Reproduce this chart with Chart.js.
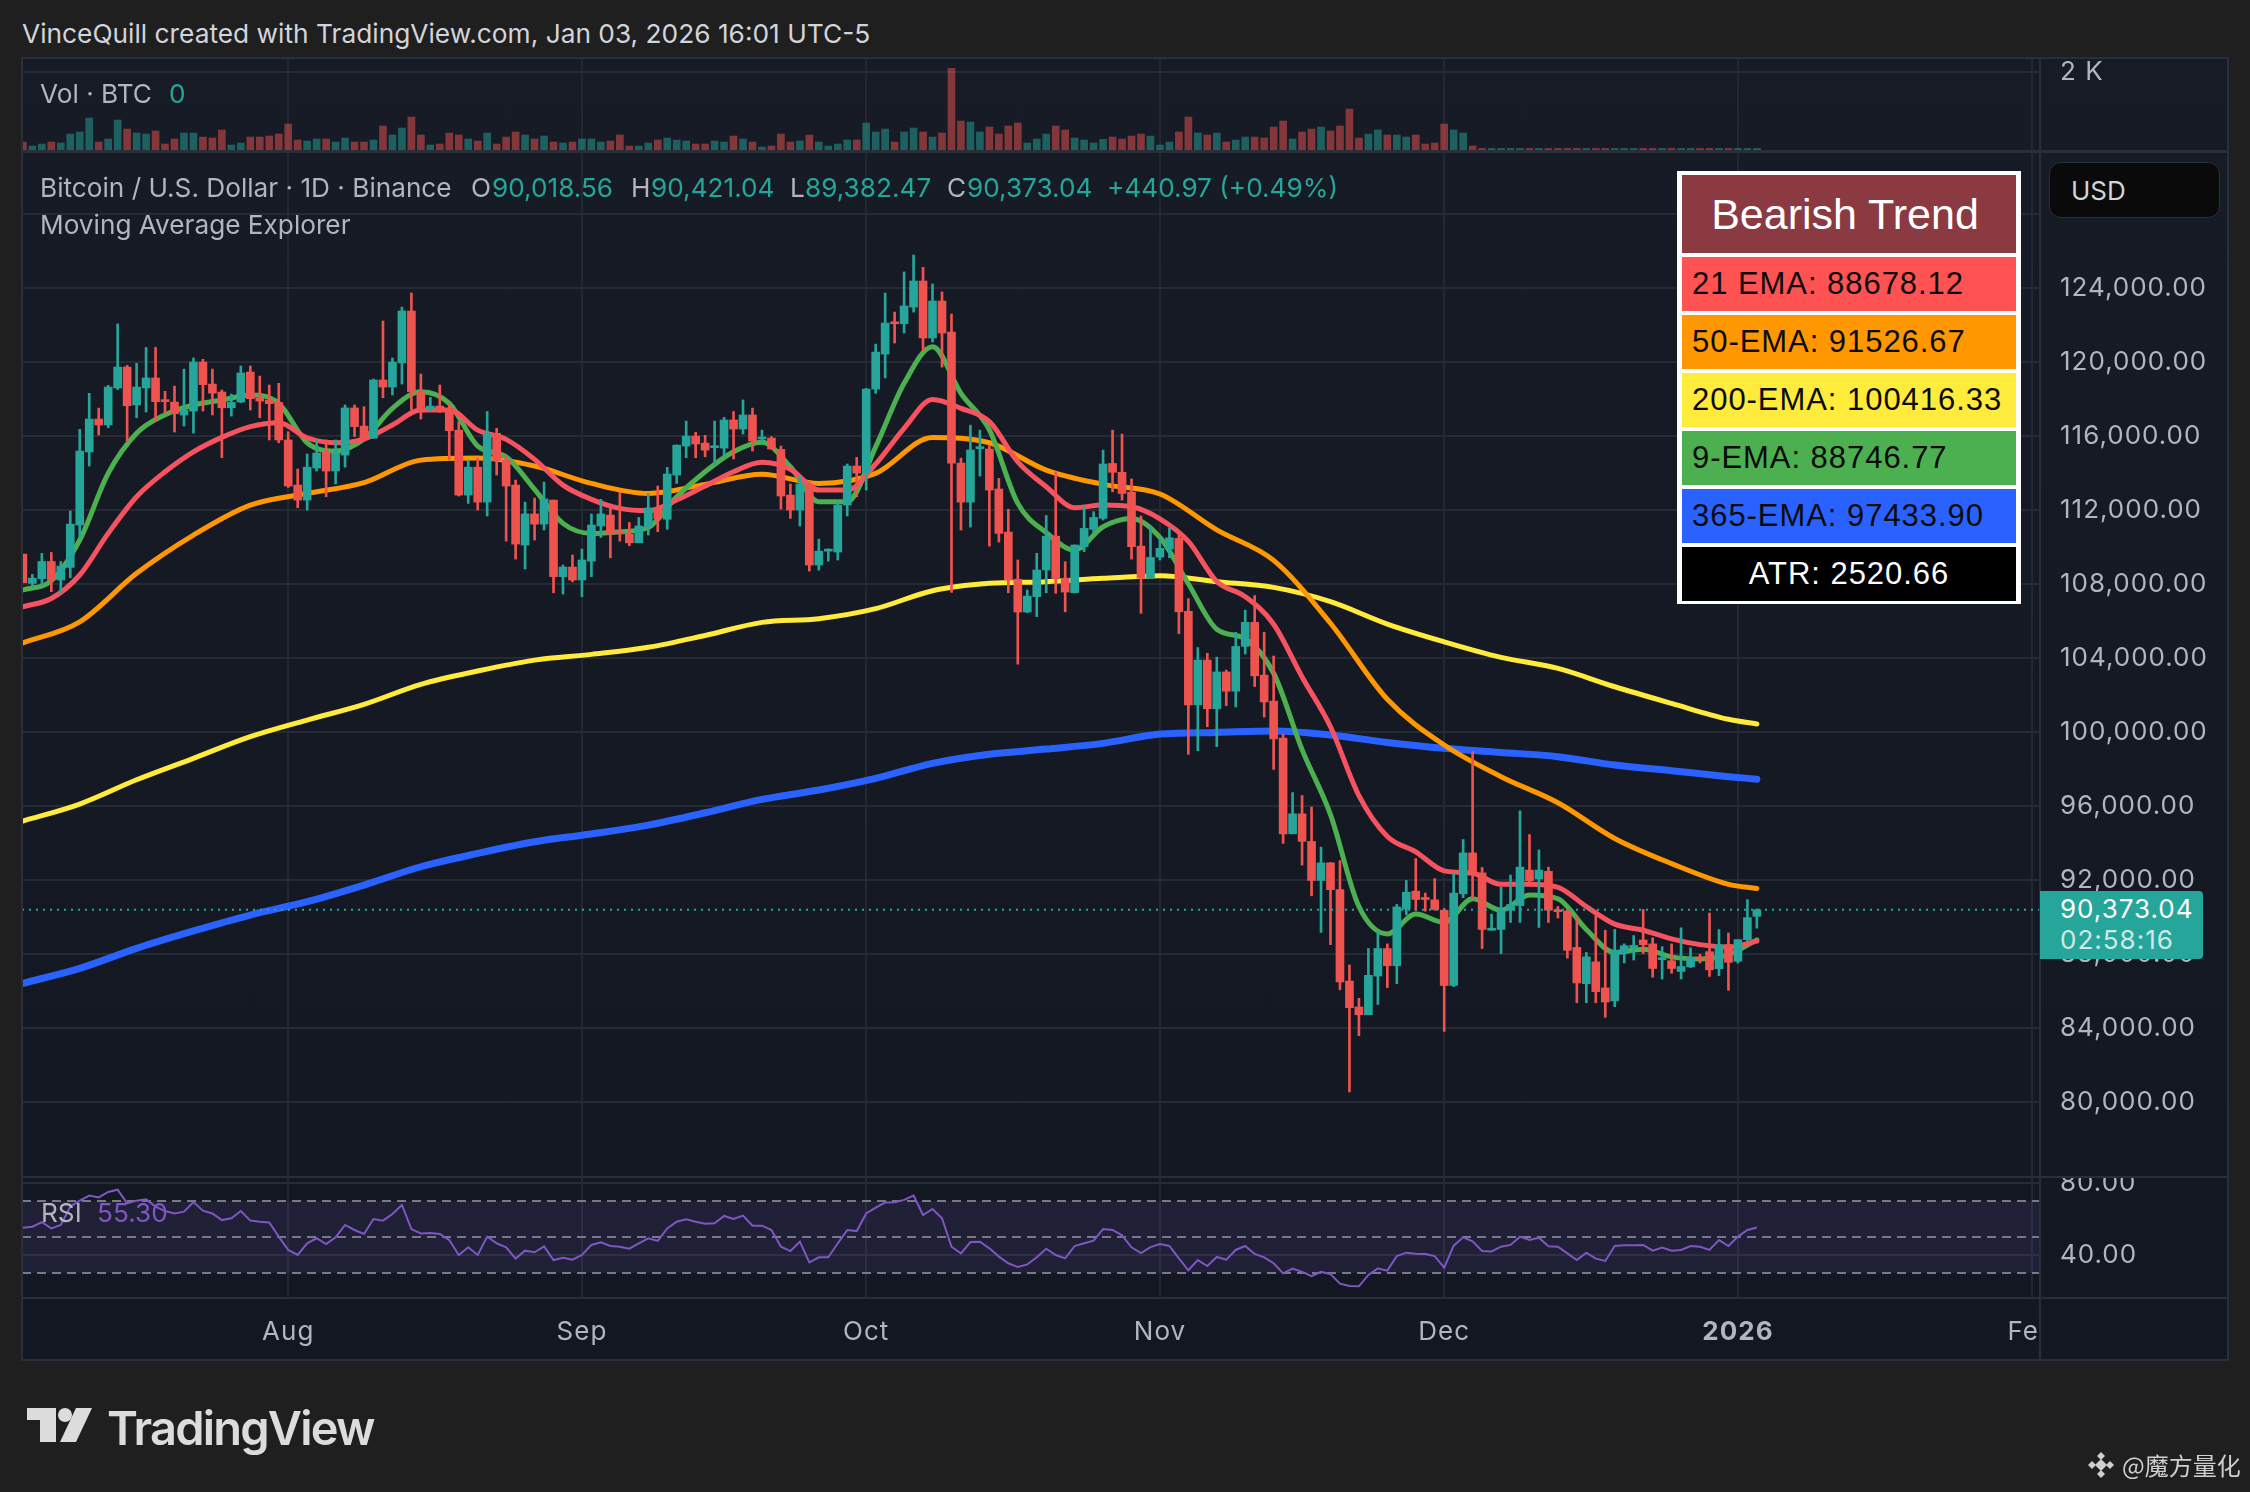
<!DOCTYPE html>
<html>
<head>
<meta charset="utf-8">
<title>BTCUSD</title>
<script src="https://cdn.jsdelivr.net/npm/chart.js@4/dist/chart.umd.min.js"></script>
<style>
    html, body { margin: 0; padding: 0; background: #1f1f1f; }
    body { position: relative; width: 2250px; height: 1492px; overflow: hidden; font-family: Inter, sans-serif; }
    .abs { position: absolute; white-space: nowrap; }
    canvas { position: absolute; }
    #panel { position: absolute; left: 22px; top: 58px; width: 2206px; height: 1302px; background: linear-gradient(#171b26, #131722); }
    .line { position: absolute; background: #2a2e39; }
    .legend { font-size: 26.2px; color: #b2b5be; line-height: 30px; }
    .up { color: #26a69a; }
    #trendTable { position: absolute; left: 1677px; top: 171px; width: 344px; height: 433px; background: #fff; }
    #trendTable div { position: absolute; left: 5px; right: 5px; color: #0b0b0b; font-size: 31px; padding-left: 10px; box-sizing: border-box; white-space: nowrap; font-family: "Liberation Sans", sans-serif; letter-spacing: 0.95px; }
    #usdBtn { position: absolute; left: 2049px; top: 162px; width: 171px; height: 56px; border: 1px solid #2a2e39; border-radius: 12px; background: #0a0a0a; color: #d1d4dc; font-size: 26px; line-height: 56px; padding-left: 21px; box-sizing: border-box; }
    #priceTag { position: absolute; left: 2040px; top: 891px; width: 163px; height: 68px; background: #26a69a; border-radius: 0 4px 4px 0; color: #fff; font-size: 26px; letter-spacing: 1px; }
    #axisCorner { position: absolute; left: 2041px; top: 1300px; width: 186px; height: 59px; background: #131722; }
</style>
</head>
<body>
<div id="panel"></div>
<canvas id="volChart" width="2206" height="92" style="left:22px;top:59px"></canvas>
<canvas id="priceChart" width="2206" height="1025" style="left:22px;top:152px"></canvas>
<canvas id="rsiChart" width="2206" height="183" style="left:22px;top:1177px"></canvas>
<div id="axisCorner"></div>

<div class="line" style="left:22px;top:57px;width:2206px;height:2px"></div>
<div class="line" style="left:22px;top:150px;width:2206px;height:3px"></div>
<div class="line" style="left:22px;top:1176px;width:2206px;height:2px"></div>
<div class="line" style="left:22px;top:1297px;width:2206px;height:2px"></div>
<div class="line" style="left:22px;top:1359px;width:2206px;height:2px"></div>
<div class="line" style="left:21px;top:57px;width:2px;height:1304px"></div>
<div class="line" style="left:2227px;top:57px;width:2px;height:1304px"></div>
<div class="line" style="left:2039px;top:57px;width:2px;height:1304px"></div>

<div class="abs" style="left:22px;top:19px;font-size:26.3px;line-height:30px;color:#d1d4dc">VinceQuill created with TradingView.com, Jan 03, 2026 16:01 UTC-5</div>

<div class="abs legend" style="left:40px;top:79px">Vol · BTC</div>
<div class="abs legend up" style="left:169px;top:79px">0</div>

<div class="abs legend" style="left:40px;top:173px">Bitcoin / U.S. Dollar · 1D · Binance</div>
<div class="abs legend" style="left:471px;top:173px">O</div>
<div class="abs legend up" style="left:492px;top:173px">90,018.56</div>
<div class="abs legend" style="left:631px;top:173px">H</div>
<div class="abs legend up" style="left:651px;top:173px">90,421.04</div>
<div class="abs legend" style="left:790px;top:173px">L</div>
<div class="abs legend up" style="left:805px;top:173px">89,382.47</div>
<div class="abs legend" style="left:947px;top:173px">C</div>
<div class="abs legend up" style="left:967px;top:173px">90,373.04</div>
<div class="abs legend up" style="left:1107px;top:173px">+440.97 (+0.49%)</div>
<div class="abs legend" style="left:40px;top:210px">Moving Average Explorer</div>

<div class="abs legend" style="left:41px;top:1198px">RSI</div>
<div class="abs legend" style="left:97px;top:1198px;color:#7e57c2">55.30</div>

<div id="trendTable"></div>
<div id="usdBtn">USD</div>
<div id="priceTag">
    <div class="abs" style="left:20px;top:2px;line-height:32px">90,373.04</div>
    <div class="abs" style="left:20px;top:33px;line-height:32px;color:#cfe9e6">02:58:16</div>
</div>

<svg class="abs" style="left:0;top:0" width="2250" height="1492">
    <polygon points="27,1408 56,1408 56,1442 40,1442 40,1420 27,1420" fill="#dcdcdc"/>
    <circle cx="65" cy="1415" r="7" fill="#dcdcdc"/>
    <polygon points="76,1408 92,1408 76,1442 60,1442" fill="#dcdcdc"/>
    <polygon points="2101,1459 2107,1465 2101,1471 2095,1465" fill="#cfcfcf"/>
    <polygon points="2101,1452 2105,1456 2101,1460 2097,1456" fill="#cfcfcf"/>
    <polygon points="2101,1470 2105,1474 2101,1478 2097,1474" fill="#cfcfcf"/>
    <polygon points="2092,1461 2096,1465 2092,1469 2088,1465" fill="#cfcfcf"/>
    <polygon points="2110,1461 2114,1465 2110,1469 2106,1465" fill="#cfcfcf"/>
</svg>
<div class="abs" style="left:107px;top:1398px;font-size:47px;line-height:60px;font-weight:600;color:#dcdcdc;letter-spacing:-1.8px">TradingView</div>
<div class="abs" style="left:2122px;top:1450px;font-size:24px;line-height:30px;color:#cfcfcf;font-family:'Noto Sans CJK SC',sans-serif">@魔方量化</div>

<script>
// Candles run one per day from Jul 4 to Jan 3
const opens = [
    109600,108020,108270,109200,108200,108880,111170,115120,116900,116580,
    118580,119710,117660,118580,119120,117910,117820,117120,117330,119980,
    118790,118360,117510,117820,119440,118020,117930,117800,115770,113330,
    112520,114250,115120,114090,114950,117500,116520,115870,119010,118630,
    119930,122740,118380,117420,117600,117480,116300,112790,114300,112410,
    116130,114680,113330,110090,111770,111220,112520,108380,108900,108200,
    109220,111120,111710,110810,110680,110210,111120,112020,111480,113870,
    115440,115980,115600,115350,115330,116850,116360,117120,115820,115870,
    115260,112790,111980,113390,109010,109760,109710,112250,114360,113980,
    118520,120410,122140,122050,122950,124360,121280,123280,121600,114520,
    112410,115300,115280,113120,110790,108240,106470,107300,108740,110570,
    108300,107510,110000,110940,111530,114500,114020,112950,110030,108300,
    109440,109870,110450,106510,101450,103870,101240,103230,102190,104610,
    105910,103060,101650,99650,94480,95560,94070,91960,92910,91460,
    86520,85120,84700,86790,88280,87350,90410,91380,91010,90910,
    90350,86280,91240,93450,92370,89270,89310,90350,90600,92520,
    92040,92450,90350,90310,88340,86380,87560,86150,85450,88030,
    88320,88740,88530,87680,87620,87040,87290,87800,88110,87190,
    88490,87590,88760,90018.56
];
const highs = [
    109600,108500,109640,109690,109200,111930,116340,118290,117490,118720,
    122040,119800,119910,120770,120770,118400,118680,119600,120200,120130,
    119600,118470,118250,119770,119770,119220,118740,118830,116210,114200,
    115010,115770,115770,115770,117660,117660,117570,119060,122200,120200,
    122950,123710,119330,118070,118740,117750,116760,114680,114770,117310,
    116400,114950,113600,112410,112630,113490,112520,109010,109550,109870,
    111770,112560,112200,112940,111310,111580,112880,113280,114290,115500,
    116790,116180,116020,116790,116990,117310,117930,117490,116300,115950,
    115440,113390,113800,113510,110410,109890,112430,114470,114830,118560,
    120950,123710,122680,124850,125770,125100,124200,123770,122580,114790,
    116570,116300,115500,113690,112020,109280,107660,109640,111690,114050,
    109190,110090,112160,111890,115220,116300,116090,113660,111660,111120,
    110450,111000,110630,107190,104550,104240,104030,103330,105370,106570,
    107360,105370,104090,99860,96710,96550,95930,93760,92930,93030,
    87390,85590,88280,89210,88530,90660,91960,93140,91280,92060,
    90450,92310,94170,98930,92660,90140,91590,92250,95720,94440,
    93610,92680,90550,90390,90040,88070,90040,89270,89310,88530,
    88980,90390,88860,88380,88530,89400,88320,87970,90200,89300,
    89120,88760,90920,90421.04
];
const lows = [
    108050,107840,107930,107570,107480,108320,110540,114360,116040,116430,
    118490,115710,116970,117280,116790,117210,116200,116520,116140,117330,
    117120,114810,117060,117780,117390,116970,115770,115620,113200,112110,
    111980,114090,112700,113390,114300,115950,115820,115850,118050,118200,
    118790,117390,116900,117300,117260,114700,112740,112340,111980,111660,
    113870,110300,109330,108790,110360,110900,107510,107440,108100,107300,
    108380,110500,109400,110300,110050,110210,110630,110810,110940,113420,
    114810,114810,114860,114410,114860,114740,116090,115170,115660,115280,
    112030,111530,111120,108680,108730,109220,109280,111660,112700,113060,
    118290,119120,121010,121550,122680,120580,121060,119710,107530,110900,
    111060,113820,110030,110250,107510,103650,106430,106220,107510,107480,
    106480,107510,109730,110720,111440,112970,112520,109330,106400,108300,
    109280,109400,105300,98780,98970,100270,99190,101410,101340,104200,
    102440,100790,97960,93960,94480,92790,91130,89150,88490,86050,
    80530,83570,84700,85260,86170,86380,90100,90350,90300,90350,
    83800,86220,91030,90970,88280,89270,88010,89690,89690,91800,
    89420,89690,89930,87760,85350,85350,85350,84560,85140,87500,
    87660,88010,86730,86630,86940,86630,87250,87500,86770,86810,
    86020,87490,88670,89382.47
];
const closes = [
    108050,108300,109200,108200,108950,111220,115170,116900,116580,118630,
    119710,117620,118630,119120,117840,117840,117190,117390,119980,118760,
    118300,117510,117800,119390,118000,117870,117730,115770,113280,112520,
    114300,115060,114090,115060,117500,116490,115870,119010,118630,119980,
    122740,118380,117390,117600,117300,116270,112790,114300,112410,116130,
    114650,113280,110140,111770,111220,112580,108380,108900,108200,109280,
    111170,111770,110680,110700,110210,111120,112090,111510,113930,115490,
    115980,115550,115220,115420,116850,116360,117120,115710,115910,115280,
    112740,111980,113390,109010,109760,109830,112250,114360,113980,118520,
    120520,122090,122050,123010,124360,121280,123280,121550,114520,112410,
    115230,115390,113060,110720,108200,106470,107330,108740,110570,108300,
    107550,110090,110990,111580,114470,114020,112880,110000,108300,109420,
    109910,110480,106480,101450,103870,101240,103230,102190,104610,105910,
    103020,101610,99610,94480,95560,94070,91960,92910,91460,86480,
    85080,84700,86830,88280,87350,90530,91320,90930,90930,90390,
    86280,91280,93450,92410,89310,89350,90350,90660,92680,91940,
    92520,90350,90270,88180,86420,87830,85950,85390,88180,88430,
    88450,88490,87200,87760,87200,87310,87800,87700,87130,88490,
    87530,88760,89950,90373.04
];
const volumes = [
    204,102,153,204,179,408,460,817,204,281,
    766,536,434,408,485,153,281,434,434,332,
    306,511,128,179,332,332,357,408,664,255,
    230,281,281,204,306,204,204,255,613,383,
    562,843,383,128,153,434,383,281,230,434,
    153,332,460,383,281,357,204,179,204,281,
    281,204,230,383,102,102,179,255,306,255,
    230,153,153,230,204,357,281,204,77,102,
    408,204,230,383,204,102,153,255,255,689,
    460,536,204,460,562,460,332,434,2085,740,
    715,460,587,408,613,689,179,281,408,613,
    511,306,255,179,272,332,281,357,408,357,
    128,204,460,843,434,383,434,204,255,332,
    332,306,587,740,281,460,536,587,485,613,
    1047,306,408,511,383,383,332,383,153,179,
    664,511,434,102,40,40,40,40,40,40,
    40,40,40,40,40,40,40,40,40,40,
    40,40,40,40,40,40,40,40,40,40,
    40,40,40,40
];
const rsiValues = [
    55.2,55.7,58.3,54.8,56.7,66.9,70.2,73.0,72.0,75.0,
    76.3,68.7,70.2,70.9,66.9,64.4,63.1,64.1,69.4,64.6,
    63.1,59.4,60.4,64.4,59.1,58.5,58.1,50.2,42.8,40.0,
    46.5,49.3,46.1,49.8,56.7,53.9,51.7,60.0,59.1,62.8,
    67.8,54.4,52.0,52.2,51.7,48.3,40.0,44.3,40.0,50.2,
    46.5,44.3,38.0,42.4,41.5,44.8,37.2,38.5,37.4,40.0,
    45.6,47.0,45.0,44.6,43.5,46.5,49.3,47.8,54.8,58.5,
    59.8,58.5,57.4,57.6,61.7,60.0,61.9,56.3,56.3,53.9,
    44.6,42.2,47.4,35.9,38.7,38.7,46.5,53.9,53.3,63.1,
    66.3,69.1,69.3,70.6,73.0,62.2,65.6,60.4,44.6,40.9,
    47.2,47.4,43.7,39.1,35.4,33.3,34.8,38.7,43.5,40.0,
    38.1,45.0,46.5,48.0,54.4,53.9,50.9,44.3,41.1,44.4,
    46.1,45.0,38.1,31.5,37.2,33.9,38.9,37.4,42.8,45.0,
    40.6,38.7,35.4,29.8,32.4,30.6,28.3,30.6,29.4,24.1,
    22.8,22.6,28.9,32.6,31.3,39.4,41.3,40.7,40.6,39.4,
    33.0,45.2,49.8,47.6,42.2,42.0,44.6,45.6,50.2,48.3,
    49.6,44.8,44.6,40.9,37.2,41.3,38.0,36.7,45.0,45.4,
    45.4,45.6,42.4,44.1,42.4,42.8,45.0,44.6,42.8,48.3,
    45.0,50.2,53.9,55.3
];

// Moving averages, read every few candles (see the steps below), last value from the table
const ema9Values = [
    107660,108160,110360,113960,116130,117130,117660,117930,118200,117750,
    115620,115170,115820,117480,118380,117750,115440,114860,113100,111260,
    110720,110810,111040,112700,114050,115130,115640,114320,112430,112430,
    115400,118830,120810,118290,116310,112340,110760,109820,111080,111530,
    110500,108000,105540,105020,103160,99030,95520,90550,89070,90140,
    89690,90970,90350,91170,90970,89310,88070,88240,87830,87720,
    87950,88746.77
];
const ema21Values = [
    106755,107200,108470,110720,112700,114050,115130,115910,116490,116700,
    115890,115620,115820,116580,117390,117390,116300,115800,114720,113330,
    112560,112070,111950,112520,113280,114050,114560,114180,113060,113060,
    114470,116400,117960,117480,116760,114590,113240,112110,112250,112160,
    111510,110290,108120,107300,105810,102960,100270,96550,94340,93510,
    92480,92350,91750,91750,91590,90550,89600,89270,88800,88490,
    88360,88678.12
];
const ema50Values = [
    104800,105940,108560,110630,112250,112880,113460,114680,114790,114360,
    113420,112880,113370,113910,113420,113960,115900,115620,114140,113370,
    112850,110910,109260,105860,101750,99280,97570,96160,94230,92870,
    91750,91526.67
];
const ema200Values = [
    95170,96090,97400,98560,99730,100630,101480,102560,103280,103870,
    104180,104560,105200,105910,106110,106650,107620,108020,108110,108290,
    108430,108110,107800,107030,105820,104860,104020,103420,102430,101530,
    100670,100416.33
];
const ema365Values = [
    86400,87210,88290,89230,90090,90810,91710,92700,93420,94050,
    94470,94950,95620,96340,96850,97480,98290,98780,99060,99370,
    99870,99960,100035,99820,99420,99100,98880,98650,98200,97890,
    97570,97433.90
];
const fastStep = 3;
const slowStep = 6;

const lastPrice = 90373.04;
const rsiLevels = [70, 50, 30];

// Ticks
const priceTicks = [128000, 124000, 120000, 116000, 112000, 108000, 104000, 100000, 96000, 92000, 88000, 84000, 80000];
const hiddenPriceTick = 128000;
const volTicks = [2000];
const rsiTicks = [80, 40];
const monthIdx = [28, 59, 89, 120, 150, 181, 212];
const monthLabels = ["Aug", "Sep", "Oct", "Nov", "Dec", "2026", "Feb"];

// Table on the chart
const tableLabels = ["Bearish Trend", "21 EMA: 88678.12", "50-EMA: 91526.67", "200-EMA: 100416.33", "9-EMA: 88746.77", "365-EMA: 97433.90", "ATR: 2520.66"];
const tableColors = ["#8c3a42", "#ff5252", "#ff9800", "#ffeb3b", "#4caf50", "#2962ff", "#000000"];

const TEAL = "#26a69a";
const RED = "#ef5350";
const AXIS_FONT = { family: "Inter", size: 26 };
const AXIS_COLOR = "#b2b5be";
const X_MIN = -0.095;
const X_MAX = 212.88;

const lastIdx = closes.length - 1;
const isUp = closes.map((c, i) => c >= opens[i]);
const candleColors = isUp.map(up => up ? TEAL : RED);
const volColors = isUp.map(up => up ? "rgba(38,166,154,0.5)" : "rgba(239,83,80,0.5)");

// axis labels in the screenshot are spaced a little wider than the font
const axisSpacing = {
    id: "axisSpacing",
    beforeDraw: chart => { chart.ctx.letterSpacing = "1px"; }
};

function sampled(values, step) {
    return values.map((y, k) => ({ x: Math.min(k * step, lastIdx), y: y }));
}

function xScale(withLabels) {
    return {
        type: "linear",
        offset: false,
        min: X_MIN,
        max: X_MAX,
        afterBuildTicks: s => { s.ticks = monthIdx.map(v => ({ value: v })); },
        afterFit: s => { s.height = withLabels ? 62 : 0; },
        border: { display: false },
        grid: { color: "#232732", lineWidth: 2, drawTicks: false, offset: false },
        ticks: {
            display: withLabels,
            autoSkip: false,
            maxRotation: 0,
            padding: 19,
            color: AXIS_COLOR,
            font: ctx => ctx.index === 5 ? { family: "Inter", size: 26, weight: "700" } : AXIS_FONT,
            callback: (v, i) => monthLabels[i]
        }
    };
}

function yScale(min, max, tickValues, labelFn) {
    return {
        position: "right",
        min: min,
        max: max,
        afterBuildTicks: s => { s.ticks = tickValues.map(v => ({ value: v })); },
        afterFit: s => {
            s.width = 188;
            s.paddingTop = 0;
            s.paddingBottom = 0;
        },
        border: { display: false },
        grid: { color: "#262a35", lineWidth: 2, drawTicks: false },
        ticks: { padding: 20, crossAlign: "near", color: AXIS_COLOR, font: AXIS_FONT, autoSkip: false, callback: labelFn }
    };
}

function baseOptions(scales) {
    return {
        responsive: false,
        animation: false,
        devicePixelRatio: 1,
        layout: { padding: 0, autoPadding: false },
        plugins: { legend: { display: false }, tooltip: { enabled: false } },
        scales: scales
    };
}

function lineSet(label, data, color, width, order) {
    return {
        type: "line",
        label: label,
        data: data,
        borderColor: color,
        borderWidth: width,
        pointRadius: 0,
        cubicInterpolationMode: "monotone",
        borderCapStyle: "round",
        borderJoinStyle: "round",
        fill: false,
        order: order
    };
}

function renderVolume() {
    new Chart(document.getElementById("volChart"), {
        type: "bar",
        plugins: [axisSpacing],
        data: {
            datasets: [{
                label: "Vol",
                data: volumes.map((v, i) => ({ x: i, y: v })),
                backgroundColor: volColors,
                barThickness: 7,
                grouped: false
            }]
        },
        options: baseOptions({
            x: xScale(false),
            y: yScale(-25, 2324, volTicks, v => (v / 1000) + " K")
        })
    });
}

function renderPrice() {
    const priceLabel = v => v === hiddenPriceTick ? "" : v.toLocaleString("en-US", { minimumFractionDigits: 2 });

    new Chart(document.getElementById("priceChart"), {
        type: "bar",
        plugins: [axisSpacing],
        data: {
            datasets: [
                {
                    label: "Bodies",
                    data: opens.map((o, i) => ({ x: i, y: [o, closes[i]] })),
                    backgroundColor: candleColors,
                    barThickness: 8,
                    minBarLength: 2,
                    grouped: false,
                    order: 1
                },
                {
                    label: "Wicks",
                    data: lows.map((l, i) => ({ x: i, y: [l, highs[i]] })),
                    backgroundColor: candleColors,
                    barThickness: 2,
                    grouped: false,
                    order: 2
                },
                lineSet("365 EMA", sampled(ema365Values, slowStep), "#2962ff", 7, 7),
                lineSet("200 EMA", sampled(ema200Values, slowStep), "#ffeb3b", 5, 6),
                lineSet("50 EMA", sampled(ema50Values, slowStep), "#ff9800", 5, 5),
                lineSet("21 EMA", sampled(ema21Values, fastStep), "#f7525f", 5, 3),
                lineSet("9 EMA", sampled(ema9Values, fastStep), "#4caf50", 5, 4),
                {
                    type: "line",
                    label: "Last",
                    data: [{ x: X_MIN, y: lastPrice }, { x: X_MAX, y: lastPrice }],
                    borderColor: TEAL,
                    borderWidth: 2,
                    borderDash: [2, 5],
                    pointRadius: 0,
                    order: 0
                }
            ]
        },
        options: baseOptions({
            x: xScale(false),
            y: yScale(75930, 131335, priceTicks, priceLabel)
        })
    });
}

function renderRsi() {
    const levelSets = rsiLevels.map(level => ({
        label: "Level " + level,
        data: [{ x: X_MIN, y: level }, { x: X_MAX, y: level }],
        borderColor: "#787b86",
        borderWidth: 2,
        borderDash: [9, 6],
        pointRadius: 0,
        order: 2
    }));
    // band between the top and bottom levels
    levelSets[0].fill = { target: { value: rsiLevels[2] }, above: "rgba(126,87,194,0.12)" };

    new Chart(document.getElementById("rsiChart"), {
        type: "line",
        plugins: [axisSpacing],
        data: {
            datasets: levelSets.concat([{
                label: "RSI",
                data: rsiValues.map((v, i) => ({ x: i, y: v })),
                borderColor: "#7e57c2",
                borderWidth: 2,
                pointRadius: 0,
                order: 1
            }])
        },
        options: baseOptions({
            x: xScale(true),
            y: yScale(16.11, 83.33, rsiTicks, v => v.toFixed(2))
        })
    });
}

function renderTable() {
    const table = document.getElementById("trendTable");
    let top = 4;
    tableLabels.forEach((text, i) => {
        const row = document.createElement("div");
        const height = i === 0 ? 78 : 54;
        row.innerText = text;
        row.style.top = top + "px";
        row.style.height = height + "px";
        row.style.lineHeight = height + "px";
        row.style.background = tableColors[i];
        if (i === 0 || i === tableLabels.length - 1) {
            row.style.color = "#ffffff";
            row.style.textAlign = "center";
            row.style.paddingLeft = "0";
        }
        if (i === 0) {
            row.style.fontSize = "43px";
            row.style.letterSpacing = "0";
            row.style.paddingRight = "8px";
        }
        table.appendChild(row);
        top += height + 4;
    });
}

renderVolume();
renderPrice();
renderRsi();
renderTable();
</script>
</body>
</html>
